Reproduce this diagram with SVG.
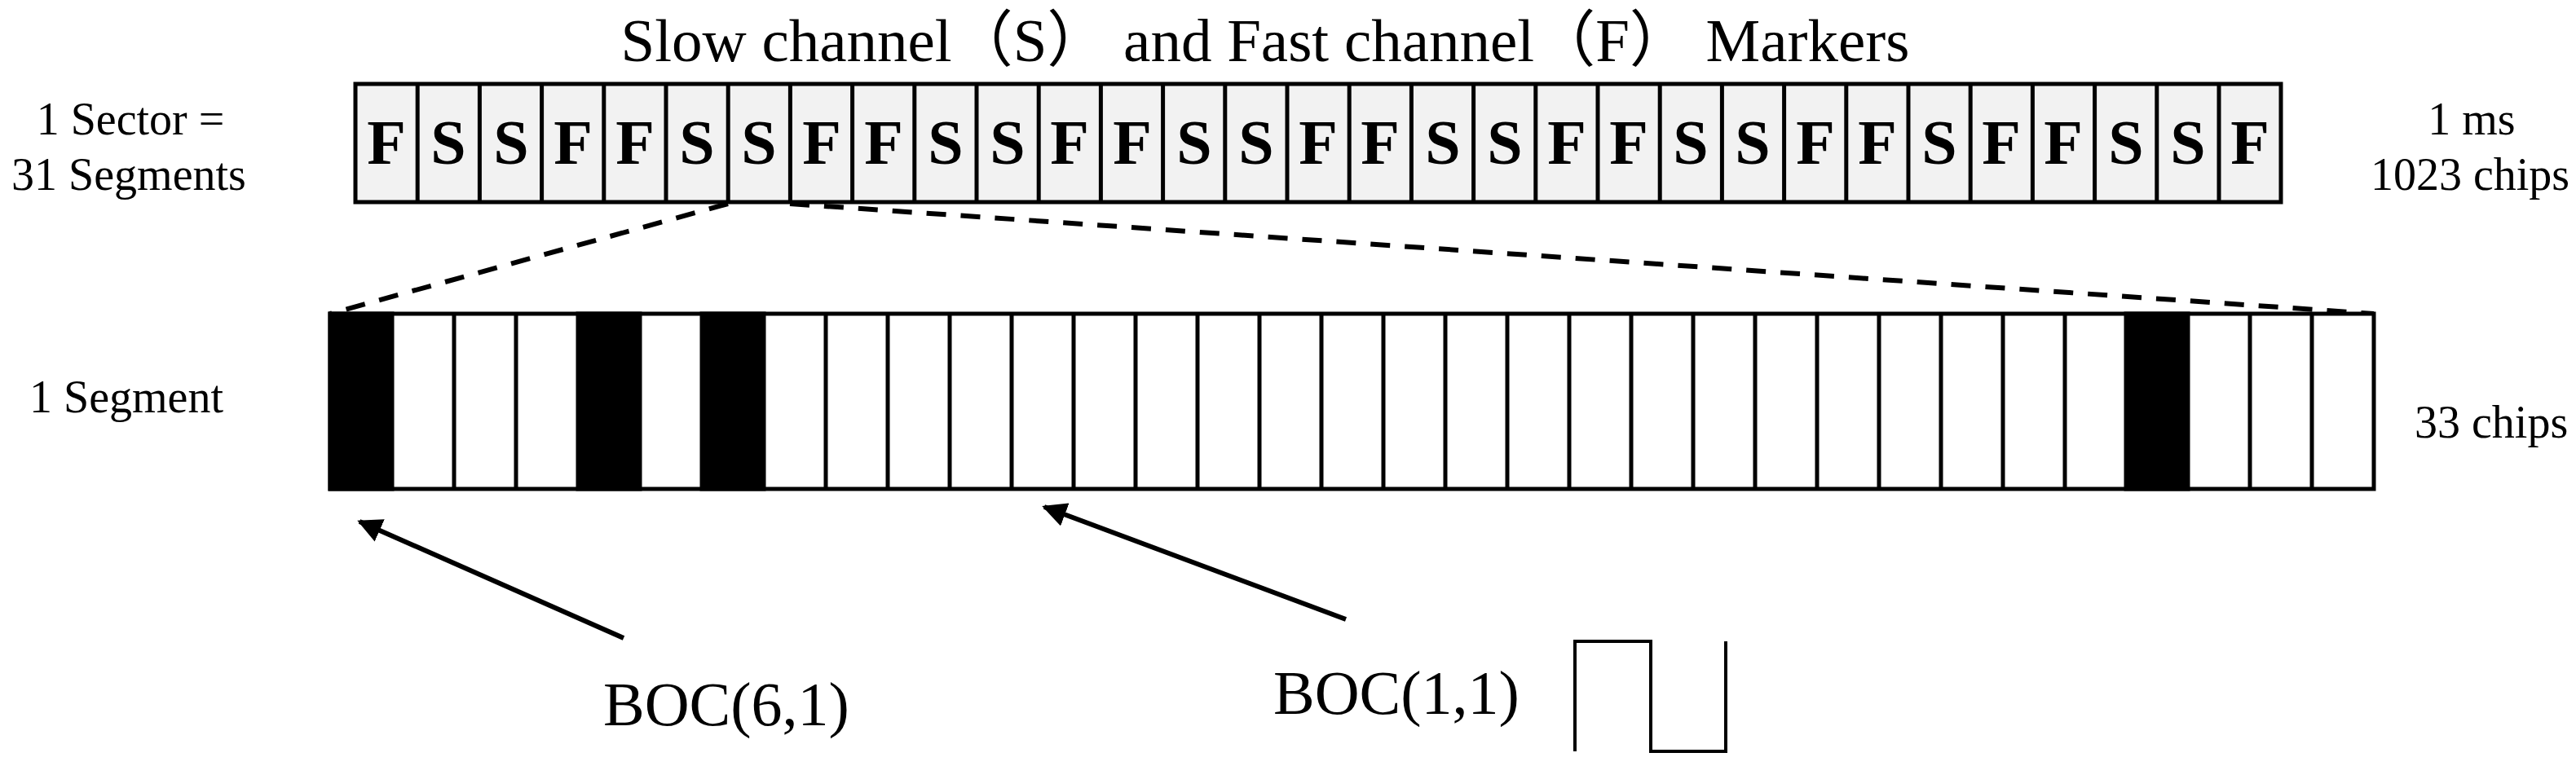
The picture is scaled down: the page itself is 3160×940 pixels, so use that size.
<svg xmlns="http://www.w3.org/2000/svg" width="3160" height="940" viewBox="0 0 3160 940">
<style>
text{font-family:"Liberation Serif","Times New Roman",serif;fill:#000}
.lbl{font-size:56px}
.big{font-size:76px}
.mk{font-size:78px;font-weight:bold;text-anchor:middle}
.cell{fill:#f2f2f2;stroke:#000;stroke-width:5}
.chip{fill:#fff;stroke:#000;stroke-width:5}
.blk{fill:#000;stroke:#000;stroke-width:5}
.dash{stroke:#000;stroke-width:6;stroke-dasharray:24 18;fill:none}
.arr{stroke:#000;stroke-width:6;fill:none;marker-end:url(#ah)}
</style>
<defs>
<marker id="ah" viewBox="0 0 10 10" refX="9" refY="5" markerWidth="5" markerHeight="5" orient="auto" markerUnits="strokeWidth">
<path d="M0,0 L10,5 L0,10 z" fill="#000"/>
</marker>
</defs>
<rect width="3160" height="940" fill="#fff"/>
<text id="title" x="1552" y="75" font-size="75" text-anchor="middle" style="font-family:'Liberation Serif','Noto Sans CJK SC',serif">Slow channel（S） and Fast channel（F） Markers</text>
<g id="sector-labels">
<text class="lbl" x="160" y="165" text-anchor="middle">1 Sector =</text>
<text class="lbl" x="158" y="233" text-anchor="middle">31 Segments</text>
<text class="lbl" x="3032" y="165" text-anchor="middle">1 ms</text>
<text class="lbl" x="3030" y="233" text-anchor="middle">1023 chips</text>
<text class="lbl" x="36" y="506">1 Segment</text>
<text class="lbl" x="2962" y="537">33 chips</text>
</g>
<g id="sector">
<rect class="cell" x="436" y="103" width="2362" height="145"/>
<g id="cells"></g>
<g stroke="#000" stroke-width="5">
<line x1="512.2" y1="103" x2="512.2" y2="248"/><line x1="588.4" y1="103" x2="588.4" y2="248"/><line x1="664.6" y1="103" x2="664.6" y2="248"/><line x1="740.8" y1="103" x2="740.8" y2="248"/><line x1="817" y1="103" x2="817" y2="248"/><line x1="893.2" y1="103" x2="893.2" y2="248"/><line x1="969.4" y1="103" x2="969.4" y2="248"/><line x1="1045.6" y1="103" x2="1045.6" y2="248"/><line x1="1121.8" y1="103" x2="1121.8" y2="248"/><line x1="1198" y1="103" x2="1198" y2="248"/><line x1="1274.2" y1="103" x2="1274.2" y2="248"/><line x1="1350.4" y1="103" x2="1350.4" y2="248"/><line x1="1426.6" y1="103" x2="1426.6" y2="248"/><line x1="1502.8" y1="103" x2="1502.8" y2="248"/><line x1="1579" y1="103" x2="1579" y2="248"/><line x1="1655.2" y1="103" x2="1655.2" y2="248"/><line x1="1731.4" y1="103" x2="1731.4" y2="248"/><line x1="1807.6" y1="103" x2="1807.6" y2="248"/><line x1="1883.8" y1="103" x2="1883.8" y2="248"/><line x1="1960" y1="103" x2="1960" y2="248"/><line x1="2036.2" y1="103" x2="2036.2" y2="248"/><line x1="2112.4" y1="103" x2="2112.4" y2="248"/><line x1="2188.6" y1="103" x2="2188.6" y2="248"/><line x1="2264.8" y1="103" x2="2264.8" y2="248"/><line x1="2341" y1="103" x2="2341" y2="248"/><line x1="2417.2" y1="103" x2="2417.2" y2="248"/><line x1="2493.4" y1="103" x2="2493.4" y2="248"/><line x1="2569.6" y1="103" x2="2569.6" y2="248"/><line x1="2645.8" y1="103" x2="2645.8" y2="248"/><line x1="2722" y1="103" x2="2722" y2="248"/>
</g>
<g>
<text class="mk" x="474" y="201">F</text><text class="mk" x="550" y="201">S</text><text class="mk" x="627" y="201">S</text><text class="mk" x="703" y="201">F</text><text class="mk" x="779" y="201">F</text><text class="mk" x="855" y="201">S</text><text class="mk" x="931" y="201" font-weight="normal">S</text><text class="mk" x="1008" y="201">F</text><text class="mk" x="1084" y="201">F</text><text class="mk" x="1160" y="201">S</text><text class="mk" x="1236" y="201">S</text><text class="mk" x="1312" y="201">F</text><text class="mk" x="1389" y="201">F</text><text class="mk" x="1465" y="201">S</text><text class="mk" x="1541" y="201">S</text><text class="mk" x="1617" y="201">F</text><text class="mk" x="1693" y="201">F</text><text class="mk" x="1770" y="201">S</text><text class="mk" x="1846" y="201">S</text><text class="mk" x="1922" y="201">F</text><text class="mk" x="1998" y="201">F</text><text class="mk" x="2074" y="201">S</text><text class="mk" x="2150" y="201">S</text><text class="mk" x="2227" y="201">F</text><text class="mk" x="2303" y="201">F</text><text class="mk" x="2379" y="201">S</text><text class="mk" x="2455" y="201">F</text><text class="mk" x="2531" y="201">F</text><text class="mk" x="2608" y="201">S</text><text class="mk" x="2684" y="201">S</text><text class="mk" x="2760" y="201">F</text>
</g>
</g>
<g id="connectors">
<line class="dash" x1="893" y1="250" x2="405" y2="385"/>
<line class="dash" x1="969" y1="250" x2="2912" y2="385"/>
<line class="arr" x1="765" y1="783" x2="441" y2="640"/>
<line class="arr" x1="1651" y1="760" x2="1281" y2="622"/>
</g>
<g id="segment">
<rect class="chip" x="405" y="385" width="2507" height="215"/>
<rect class="blk" x="405" y="385" width="76" height="215"/>
<rect class="blk" x="709" y="385" width="76" height="215"/>
<rect class="blk" x="861" y="385" width="76" height="215"/>
<rect class="blk" x="2608" y="385" width="76" height="215"/>
<g stroke="#000" stroke-width="5">
<line x1="557" y1="385" x2="557" y2="600"/><line x1="633" y1="385" x2="633" y2="600"/><line x1="1013" y1="385" x2="1013" y2="600"/><line x1="1089" y1="385" x2="1089" y2="600"/><line x1="1165" y1="385" x2="1165" y2="600"/><line x1="1241" y1="385" x2="1241" y2="600"/><line x1="1317" y1="385" x2="1317" y2="600"/><line x1="1393" y1="385" x2="1393" y2="600"/><line x1="1469" y1="385" x2="1469" y2="600"/><line x1="1545" y1="385" x2="1545" y2="600"/><line x1="1621" y1="385" x2="1621" y2="600"/><line x1="1697" y1="385" x2="1697" y2="600"/><line x1="1773" y1="385" x2="1773" y2="600"/><line x1="1849" y1="385" x2="1849" y2="600"/><line x1="1925" y1="385" x2="1925" y2="600"/><line x1="2001" y1="385" x2="2001" y2="600"/><line x1="2077" y1="385" x2="2077" y2="600"/><line x1="2153" y1="385" x2="2153" y2="600"/><line x1="2229" y1="385" x2="2229" y2="600"/><line x1="2305" y1="385" x2="2305" y2="600"/><line x1="2381" y1="385" x2="2381" y2="600"/><line x1="2457" y1="385" x2="2457" y2="600"/><line x1="2533" y1="385" x2="2533" y2="600"/><line x1="2760" y1="385" x2="2760" y2="600"/><line x1="2836" y1="385" x2="2836" y2="600"/>
</g>
</g>
<g id="boc61"><text class="big" x="740" y="890" font-size="78">BOC(6,1)</text></g>
<g id="boc11">
<text class="big" x="1562" y="876" font-size="78">BOC(1,1)</text>
<path d="M1932 922 V787 H2025 V922 H2117 V787" fill="none" stroke="#000" stroke-width="4"/>
</g>
</svg>
